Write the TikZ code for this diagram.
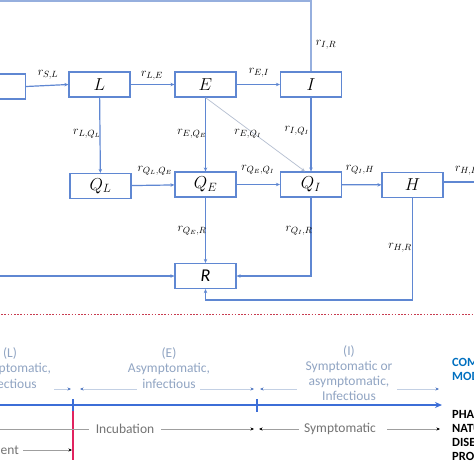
\documentclass[tikz,border=0pt]{standalone}
\usepackage{fontspec}
\newfontfamily\calibrifont{Carlito}
\usetikzlibrary{arrows.meta}
\definecolor{boxblue}{RGB}{95,135,210}
\definecolor{toplight}{RGB}{150,175,222}
\definecolor{diagc}{RGB}{180,190,208}
\definecolor{tlblue}{RGB}{60,110,215}
\definecolor{txtblue}{RGB}{145,165,195}
\definecolor{dimblue}{RGB}{195,208,228}
\definecolor{dimhead}{RGB}{80,120,195}
\definecolor{redline}{RGB}{225,35,95}
\definecolor{dotred}{RGB}{200,60,80}
\definecolor{headblue}{RGB}{0,112,192}
\begin{document}
\begin{tikzpicture}[x=1pt,y=-1pt,
  comp/.style={draw=boxblue, line width=1.2pt, minimum width=61pt, minimum height=25pt, inner sep=0pt, font=\fontsize{18}{20}\selectfont},
  flow/.style={draw=boxblue, line width=1.2pt, -{Stealth[length=4pt,width=3.5pt]}},
  rate/.style={font=\fontsize{13}{15}\selectfont, inner sep=0pt},
  phase/.style={text=txtblue, font=\calibrifont\fontsize{13.5}{15.2}\selectfont, align=center, inner sep=0pt},
  dimline/.style={draw=dimblue, line width=0.8pt},
  dimtip/.style={dimline, arrows={-{Stealth[length=3.5pt,width=3pt,color=dimhead]}}},
  dimtipl/.style={dimline, arrows={{Stealth[length=3.5pt,width=3pt,color=dimhead]}-}},
  grayline/.style={draw=gray!75, line width=0.8pt},
  graytip/.style={grayline, arrows={-{Stealth[length=3.5pt,width=3pt,color=black]}}},
  graytipl/.style={grayline, arrows={{Stealth[length=3.5pt,width=3pt,color=black]}-}},
  plain/.style={font=\calibrifont\fontsize{13.5}{15}\selectfont, text=gray!90!black, inner sep=0pt},
  heading/.style={font=\calibrifont\bfseries\fontsize{12.5}{14}\selectfont, align=left, inner sep=0pt}
]
\useasboundingbox (0,0) rectangle (474,474);
\fill[white] (0,0) rectangle (474,474);

% compartments
\node[comp] (S) at (-5,86.5) {};
\node[comp] (L) at (99.5,84.5) {$L$};
\node[comp] (E) at (205.5,84.5) {$E$};
\node[comp] (I) at (311,84.5) {$I$};
\node[comp] (QL) at (100.5,186) {$Q_L$};
\node[comp] (QE) at (205.5,184.5) {$Q_E$};
\node[comp] (QI) at (311,184.5) {$Q_I$};
\node[comp] (H) at (412.5,185) {$H$};
\node[comp] (R) at (205.5,276) {\calibrifont\itshape R};

\coordinate (topL) at (-12,1);
\coordinate (botL) at (-12,276);
\coordinate (D) at (490,182);
\coordinate (hr) at (412.5,300);

% connectors
\draw[flow] (S.east) -- (L.west);
\draw[flow] (L) -- (E);
\draw[flow] (E) -- (I);
\draw[flow] (L) -- (QL);
\draw[flow] (E) -- (QE);
\draw[flow, draw=diagc, line width=0.7pt] (E.south) -- ([xshift=-6pt]QI.north);
\draw[flow] (I) -- (QI);
\draw[flow] (QL) -- (QE);
\draw[flow] (QE) -- (QI);
\draw[flow] (QI) -- (H);
\draw[flow] (H.east |- D) -- (D);
\draw[flow] (QE) -- (R);
\draw[flow] (QI.south) |- (R.east);
\draw[flow] (H.south) -- (hr) -| (R.south);
\draw[draw=toplight, line width=1.6pt] (I.north) |- (topL);
\draw[flow] (botL) -- (R.west);

% rates
\node[rate] (rSL) at (48,75) {$r_{S,L}$};
\node[rate] (rLE) at (152,76) {$r_{L,E}$};
\node[rate] (rEI) at (259,73) {$r_{E,I}$};
\node[rate] (rIR) at (326,45) {$r_{I,R}$};
\node[rate] (rLQL) at (87,134) {$r_{L,Q_L}$};
\node[rate] (rEQE) at (192,134) {$r_{E,Q_E}$};
\node[rate] (rEQI) at (248,134) {$r_{E,Q_I}$};
\node[rate] (rIQI) at (297,131) {$r_{I,Q_I}$};
\node[rate] (rQLQE) at (155,171) {$r_{Q_L,Q_E}$};
\node[rate] (rQEQI) at (258,170) {$r_{Q_E,Q_I}$};
\node[rate] (rQIH) at (360,170) {$r_{Q_I,H}$};
\node[rate, anchor=west] (rHD) at (455,171) {$r_{H,D}$};
\node[rate] (rQER) at (192,231) {$r_{Q_E,R}$};
\node[rate] (rQIR) at (299,231) {$r_{Q_I,R}$};
\node[rate] (rHR) at (400,248) {$r_{H,R}$};

% separator
\draw[dotred, line width=0.8pt, dash pattern=on 1.6pt off 1.6pt] (-2,314) -- (476,314);

% phase texts
\node[phase] (tL) at (10,368) {(L)\\Asymptomatic,\\infectious};
\node[phase] (tE) at (169,368) {(E)\\Asymptomatic,\\infectious};
\node[phase] (tI) at (349,373) {(I)\\Symptomatic or\\asymptomatic,\\Infectious};

% dimension arrows of the phases
\draw[dimtip] (54,389) -- (71,389);
\draw[dimtipl] (80,389) -- (137,389);
\draw[dimtip] (200,389) -- (254,389);
\draw[dimtipl] (260,389) -- (297,389);
\draw[dimtip] (397,389) -- (439,389);

% main timeline
\coordinate (tA) at (-5,405);
\coordinate (tB) at (442,405);
\draw[tlblue, line width=1.8pt, -{Stealth[length=7pt,width=6pt]}] (tA) -- (tB);
\draw[redline, line width=1.2pt] (73,400) -- (73,460);
\draw[tlblue, line width=1.2pt] (73,399) -- (73,411);
\draw[tlblue, line width=1.2pt] (257,399) -- (257,412);

% incubation / symptomatic
\node[plain] (inc) at (125,429) {Incubation};
\node[plain] (sym) at (340,429) {Symptomatic};
\draw[grayline] (-5,429) -- (89,429);
\draw[graytip] (161,429) -- (254,429);
\draw[graytipl] (259,429) -- (299,429);
\draw[graytip] (387,429) -- (440,429);

% moment
\node[plain, anchor=east] (mom) at (19,450) {Infection moment};
\draw[graytip] (23,450) -- (72,450);

% right headings
\node[heading, text=headblue, anchor=north west] (cm) at (452,358) {COMPARTMENTAL\\MODEL};
\node[heading, text=black, anchor=north west] (ph) at (452,410) {PHASES OF\\NATURAL\\DISEASE\\PROGRESSION};
\end{tikzpicture}
\end{document}
